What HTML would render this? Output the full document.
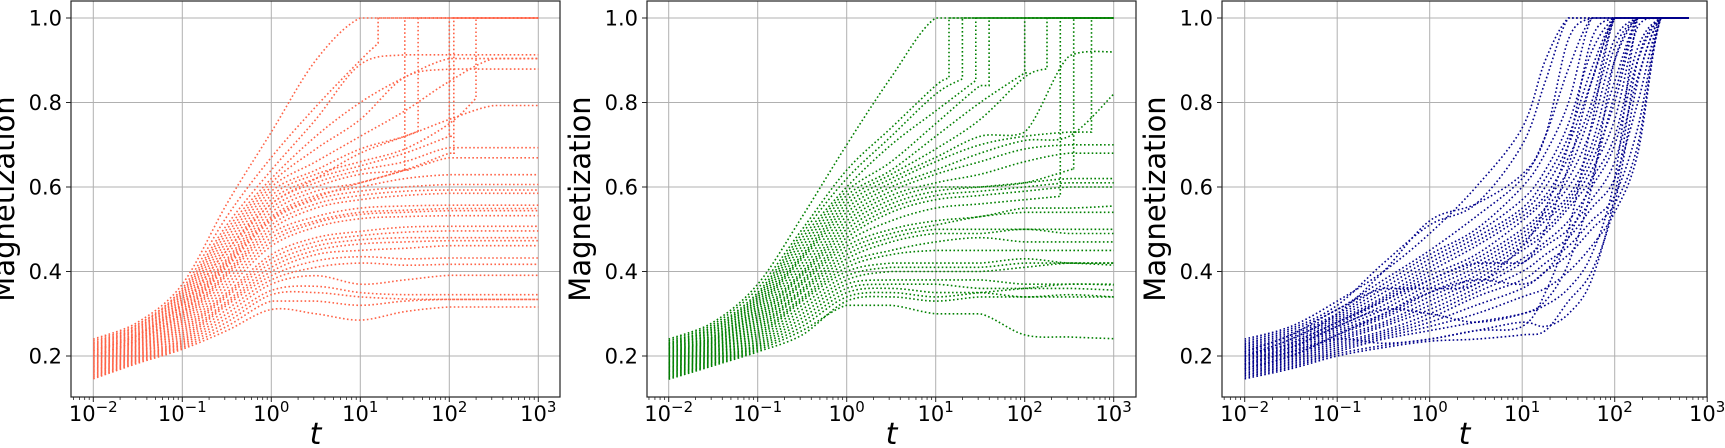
<!DOCTYPE html>
<html><head><meta charset="utf-8">
<style>
html,body{margin:0;padding:0;background:#fff;}
svg{display:block;font-family:"DejaVu Sans","Liberation Sans",sans-serif;}
</style></head>
<body>
<svg id="chart" width="1725" height="448" viewBox="0 0 1725 448" xmlns="http://www.w3.org/2000/svg"></svg>
<script>
// ---- data ----
const yTicks = [0.2, 0.4, 0.6, 0.8, 1.0];
const yTickLabels = ["0.2", "0.4", "0.6", "0.8", "1.0"];
const xTickExps = [-2, -1, 0, 1, 2, 3];
const gridE = [-2, -1.5, -1, -0.5, 0, 0.5, 1, 1.5, 2, 2.5, 3];
const gridE3 = [-2, -1.5, -1, -0.5, 0, 0.5, 1, 1.25, 1.5, 1.75, 2, 2.25, 2.5, 2.8];

const redSeries = [
[0.240,0.280,0.370,0.560,0.730,0.900,1.000,1.000,1.000,1.000,1.000],
[0.236,0.275,0.360,0.530,0.670,0.790,0.900,1.000,1.000,1.000,1.000],
[0.232,0.272,0.355,0.510,0.640,0.760,0.890,0.913,0.913,0.913,0.913],
[0.229,0.268,0.350,0.500,0.620,0.720,0.800,0.860,0.904,0.904,0.904],
[0.226,0.265,0.345,0.490,0.610,0.690,0.760,0.860,0.879,0.879,0.879],
[0.223,0.262,0.340,0.480,0.600,0.660,0.720,0.780,0.850,0.904,0.904],
[0.220,0.258,0.335,0.470,0.590,0.640,0.690,0.720,0.760,0.793,0.793],
[0.217,0.255,0.330,0.460,0.580,0.630,0.660,0.690,0.750,0.850,0.850],
[0.214,0.252,0.325,0.450,0.570,0.620,0.650,0.680,0.720,0.720,0.720],
[0.211,0.249,0.320,0.440,0.560,0.610,0.640,0.660,0.693,0.693,0.693],
[0.208,0.246,0.315,0.430,0.550,0.600,0.630,0.640,0.669,0.669,0.669],
[0.205,0.243,0.310,0.425,0.540,0.590,0.610,0.640,0.652,0.652,0.652],
[0.202,0.240,0.305,0.420,0.530,0.580,0.600,0.620,0.629,0.629,0.629],
[0.199,0.237,0.300,0.410,0.520,0.570,0.590,0.600,0.606,0.606,0.606],
[0.196,0.234,0.295,0.400,0.510,0.560,0.580,0.590,0.593,0.593,0.593],
[0.193,0.231,0.290,0.395,0.500,0.550,0.570,0.580,0.585,0.585,0.585],
[0.190,0.228,0.285,0.390,0.490,0.530,0.550,0.555,0.557,0.557,0.557],
[0.187,0.225,0.280,0.380,0.480,0.520,0.540,0.545,0.549,0.549,0.549],
[0.184,0.222,0.275,0.370,0.470,0.515,0.535,0.540,0.544,0.544,0.544],
[0.181,0.219,0.270,0.360,0.460,0.505,0.525,0.530,0.532,0.532,0.532],
[0.178,0.216,0.265,0.350,0.440,0.480,0.495,0.505,0.507,0.507,0.507],
[0.175,0.213,0.260,0.345,0.430,0.470,0.485,0.493,0.496,0.496,0.496],
[0.172,0.210,0.255,0.340,0.420,0.460,0.475,0.480,0.480,0.480,0.480],
[0.169,0.207,0.250,0.330,0.410,0.450,0.465,0.470,0.473,0.473,0.473],
[0.166,0.204,0.245,0.325,0.400,0.440,0.450,0.455,0.461,0.461,0.461],
[0.163,0.201,0.240,0.320,0.390,0.425,0.435,0.430,0.432,0.432,0.432],
[0.160,0.198,0.236,0.310,0.380,0.410,0.420,0.415,0.417,0.417,0.417],
[0.157,0.195,0.232,0.300,0.370,0.390,0.370,0.380,0.391,0.391,0.391],
[0.154,0.192,0.228,0.290,0.355,0.365,0.350,0.345,0.345,0.345,0.345],
[0.151,0.189,0.224,0.280,0.345,0.350,0.340,0.335,0.334,0.334,0.334],
[0.148,0.186,0.220,0.270,0.330,0.330,0.320,0.330,0.334,0.334,0.334],
[0.146,0.183,0.216,0.260,0.310,0.300,0.285,0.305,0.316,0.316,0.316],
[0.213,0.250,0.322,0.450,0.560,0.620,0.680,0.720,0.760,0.760,0.760],
[0.200,0.238,0.302,0.415,0.525,0.575,0.610,0.640,0.680,0.680,0.680]
];
const redJumps = [null,1.2,null,null,null,null,null,2.3,2.0,null,null,1.5,null,null,null,null,null,null,null,null,null,null,null,null,null,null,null,null,null,null,null,null,1.65,2.05];

const greenSeries = [
[0.240,0.280,0.370,0.530,0.700,0.860,1.000,1.000,1.000,1.000,1.000],
[0.236,0.275,0.360,0.500,0.640,0.740,0.840,0.900,0.900,0.900,0.900],
[0.232,0.270,0.350,0.490,0.620,0.720,0.820,0.880,0.880,0.880,0.880],
[0.229,0.266,0.345,0.480,0.600,0.700,0.780,0.860,0.860,0.860,0.860],
[0.226,0.262,0.340,0.470,0.590,0.660,0.750,0.840,0.840,0.840,0.840],
[0.223,0.258,0.335,0.460,0.580,0.640,0.720,0.800,0.870,0.870,0.870],
[0.220,0.254,0.330,0.450,0.570,0.630,0.690,0.760,0.860,0.900,0.900],
[0.217,0.250,0.325,0.440,0.560,0.620,0.670,0.720,0.730,0.910,0.920],
[0.214,0.246,0.320,0.435,0.550,0.610,0.660,0.700,0.720,0.730,0.730],
[0.211,0.243,0.315,0.430,0.540,0.600,0.640,0.680,0.710,0.720,0.820],
[0.208,0.240,0.310,0.420,0.530,0.590,0.630,0.660,0.690,0.700,0.700],
[0.205,0.237,0.305,0.410,0.520,0.580,0.610,0.630,0.660,0.680,0.680],
[0.202,0.234,0.300,0.400,0.510,0.570,0.600,0.600,0.610,0.640,0.670],
[0.199,0.231,0.295,0.395,0.500,0.560,0.590,0.600,0.610,0.620,0.620],
[0.196,0.228,0.290,0.390,0.490,0.550,0.580,0.590,0.600,0.610,0.610],
[0.193,0.225,0.285,0.380,0.480,0.540,0.570,0.580,0.590,0.600,0.600],
[0.190,0.222,0.280,0.375,0.470,0.520,0.550,0.560,0.570,0.580,0.580],
[0.187,0.219,0.275,0.370,0.460,0.500,0.520,0.530,0.550,0.550,0.555],
[0.184,0.216,0.270,0.360,0.450,0.490,0.510,0.530,0.540,0.540,0.540],
[0.181,0.213,0.265,0.355,0.440,0.480,0.500,0.500,0.500,0.500,0.500],
[0.178,0.210,0.260,0.350,0.430,0.470,0.490,0.490,0.500,0.490,0.490],
[0.175,0.207,0.255,0.340,0.420,0.450,0.470,0.480,0.470,0.470,0.470],
[0.172,0.204,0.250,0.335,0.410,0.440,0.450,0.450,0.450,0.450,0.450],
[0.169,0.201,0.245,0.330,0.400,0.420,0.420,0.420,0.430,0.420,0.420],
[0.166,0.198,0.240,0.320,0.390,0.410,0.410,0.410,0.420,0.420,0.415],
[0.163,0.195,0.235,0.310,0.380,0.400,0.400,0.400,0.410,0.420,0.420],
[0.160,0.192,0.230,0.300,0.370,0.380,0.380,0.380,0.370,0.370,0.370],
[0.157,0.189,0.226,0.290,0.360,0.370,0.370,0.360,0.360,0.360,0.356],
[0.154,0.186,0.222,0.280,0.350,0.360,0.350,0.350,0.340,0.345,0.340],
[0.151,0.183,0.218,0.270,0.340,0.350,0.340,0.350,0.360,0.370,0.368],
[0.148,0.180,0.214,0.260,0.320,0.320,0.300,0.300,0.250,0.245,0.241],
[0.145,0.177,0.210,0.250,0.330,0.340,0.330,0.340,0.340,0.340,0.340]
];
const greenJumps = [null,1.15,1.3,1.45,1.6,2.0,2.25,null,2.75,null,null,null,2.55,null,null,null,2.4,null,null,null,null,null,null,null,null,null,null,null,null,null,null,null];

const blueSeries = [
[0.240,0.270,0.330,0.400,0.490,0.600,0.740,0.900,1,1,1,1,1,1],
[0.235,0.265,0.320,0.420,0.510,0.560,0.700,0.850,1,1,1,1,1,1],
[0.230,0.260,0.310,0.380,0.450,0.530,0.620,0.720,0.880,1,1,1,1,1],
[0.226,0.255,0.300,0.370,0.440,0.500,0.600,0.680,0.800,1,1,1,1,1],
[0.222,0.250,0.295,0.360,0.430,0.490,0.570,0.640,0.750,0.920,1,1,1,1],
[0.218,0.245,0.290,0.350,0.420,0.480,0.550,0.620,0.720,0.880,1,1,1,1],
[0.214,0.240,0.285,0.340,0.410,0.470,0.540,0.600,0.700,0.850,1,1,1,1],
[0.210,0.235,0.280,0.335,0.400,0.460,0.530,0.580,0.670,0.800,1,1,1,1],
[0.206,0.230,0.275,0.330,0.390,0.440,0.520,0.570,0.640,0.780,0.950,1,1,1],
[0.202,0.226,0.270,0.320,0.380,0.430,0.500,0.550,0.620,0.740,0.930,1,1,1],
[0.198,0.222,0.265,0.310,0.370,0.420,0.490,0.540,0.600,0.700,0.900,1,1,1],
[0.194,0.218,0.260,0.300,0.360,0.410,0.480,0.530,0.580,0.680,0.850,1,1,1],
[0.190,0.214,0.255,0.295,0.350,0.400,0.470,0.520,0.570,0.660,0.800,1,1,1],
[0.186,0.210,0.250,0.290,0.340,0.390,0.460,0.500,0.560,0.640,0.760,0.980,1,1],
[0.182,0.206,0.245,0.280,0.330,0.380,0.450,0.490,0.550,0.620,0.720,0.930,1,1],
[0.178,0.202,0.240,0.275,0.320,0.370,0.430,0.470,0.520,0.600,0.700,0.900,1,1],
[0.174,0.198,0.235,0.270,0.310,0.360,0.420,0.460,0.500,0.570,0.660,0.860,1,1],
[0.170,0.194,0.230,0.260,0.300,0.350,0.400,0.440,0.480,0.550,0.620,0.800,1,1],
[0.166,0.190,0.225,0.255,0.290,0.340,0.380,0.420,0.460,0.520,0.580,0.740,1,1],
[0.162,0.186,0.220,0.250,0.280,0.320,0.360,0.400,0.440,0.500,0.560,0.700,1,1],
[0.158,0.182,0.215,0.245,0.270,0.300,0.340,0.360,0.400,0.460,0.540,0.680,1,1],
[0.154,0.178,0.210,0.240,0.260,0.280,0.300,0.320,0.360,0.440,0.620,1,1,1],
[0.150,0.174,0.205,0.225,0.240,0.260,0.280,0.270,0.300,0.380,0.580,0.900,1,1],
[0.146,0.170,0.200,0.220,0.235,0.240,0.250,0.260,0.330,0.400,0.560,0.850,1,1],
[0.200,0.240,0.300,0.400,0.520,0.560,0.630,0.720,0.950,1,1,1,1,1],
[0.210,0.250,0.310,0.360,0.360,0.370,0.460,0.550,0.700,0.950,1,1,1,1],
[0.180,0.210,0.240,0.230,0.240,0.260,0.270,0.350,0.500,0.750,1,1,1,1],
[0.200,0.230,0.280,0.330,0.380,0.420,0.420,0.500,0.650,0.850,1,1,1,1],
[0.190,0.220,0.270,0.310,0.300,0.280,0.300,0.330,0.420,0.600,0.900,1,1,1],
[0.170,0.200,0.250,0.300,0.350,0.380,0.370,0.400,0.480,0.620,0.820,1,1,1]
];

// ---- layout ----
const Y0 = 356, YPER = 422.5;
const plotTop = 1, plotBot = 397;
const panels = [
  {left:71, right:560, x0:93.3, dec:89, color:"#ff6347", series:redSeries, jumps:redJumps, grid:gridE, name:"red"},
  {left:647, right:1136, x0:668.7, dec:89, color:"#008000", series:greenSeries, jumps:greenJumps, grid:gridE, name:"green"},
  {left:1222, right:1707, x0:1244.7, dec:92.5, color:"#00008b", series:blueSeries, jumps:null, grid:gridE3, name:"blue"}
];
const NS = "http://www.w3.org/2000/svg";
const svg = document.getElementById("chart");
function mk(tag, attrs, parent){
  const el = document.createElementNS(NS, tag);
  for (const k in attrs) el.setAttribute(k, attrs[k]);
  (parent||svg).appendChild(el);
  return el;
}
function yScale(v){ return Y0 - (v - 0.2) * YPER; }
function smoothPath(pts){
  let d = "M" + pts[0][0].toFixed(1) + "," + pts[0][1].toFixed(1);
  for (let i = 0; i < pts.length - 1; i++) {
    const p0 = pts[i-1] || pts[i], p1 = pts[i], p2 = pts[i+1], p3 = pts[i+2] || p2;
    let c1y = p1[1] + (p2[1] - p0[1]) / 6, c2y = p2[1] - (p3[1] - p1[1]) / 6;
    const lo = Math.min(p1[1], p2[1]), hi = Math.max(p1[1], p2[1]);
    if (p1[1] === p2[1]) { c1y = p1[1]; c2y = p2[1]; }
    c1y = Math.max(lo - 3, Math.min(hi + 3, c1y));
    c2y = Math.max(lo - 3, Math.min(hi + 3, c2y));
    const c1x = p1[0] + (p2[0] - p0[0]) / 6, c2x = p2[0] - (p3[0] - p1[0]) / 6;
    d += " C" + c1x.toFixed(1) + "," + c1y.toFixed(1) + " " + c2x.toFixed(1) + "," + c2y.toFixed(1) + " " + p2[0].toFixed(1) + "," + p2[1].toFixed(1);
  }
  return d;
}

panels.forEach((p, pi) => {
  const xScale = e => p.x0 + (e + 2) * p.dec;
  const g = mk("g", {});
  
  
  const clipId = "clip" + pi;
  const cp = mk("clipPath", {id: clipId}, g);
  mk("rect", {x:p.left, y:plotTop, width:p.right-p.left, height:plotBot-plotTop}, cp);

  xTickExps.forEach(e => {
    const x = xScale(e);
    if (x > p.right + 0.5) return;
    const l = mk("line", {x1:x, x2:x, y1:plotTop, y2:plotBot, stroke:"#b0b0b0", "stroke-width":1}, g);
    
    
  });
  yTicks.forEach(v => {
    const y = yScale(v);
    const l = mk("line", {x1:p.left, x2:p.right, y1:y, y2:y, stroke:"#b0b0b0", "stroke-width":1}, g);
    
    
  });

  const sg = mk("g", {"clip-path":"url(#"+clipId+")"}, g);
  p.series.forEach((vals, si) => {
    const jump = p.jumps ? p.jumps[si] : null;
    const pts = [];
    let tail = "";
    for (let i = 0; i < p.grid.length; i++) {
      const e = p.grid[i];
      const v = i < vals.length ? vals[i] : vals[vals.length-1];
      if (jump !== null && e > jump) {
        const ep = p.grid[i-1], vp = vals[i-1];
        const vj = vp + (v - vp) * (jump - ep) / (e - ep);
        pts.push([xScale(jump), yScale(vj)]);
        tail = " L" + xScale(jump).toFixed(1) + "," + yScale(1.0).toFixed(1) +
               " L" + xScale(p.grid[p.grid.length-1]).toFixed(1) + "," + yScale(1.0).toFixed(1);
        break;
      }
      pts.push([xScale(e), yScale(Math.min(v, 1.0))]);
    }
    const path = mk("path", {d: smoothPath(pts) + tail,
      fill:"none", stroke:p.color, "stroke-width":1.6, "stroke-dasharray":"1.6 2.4"}, sg);
    
    
  });

  const frame = mk("rect", {x:p.left, y:plotTop, width:p.right-p.left, height:plotBot-plotTop, fill:"none", stroke:"#222", "stroke-width":1.2}, g);
  
  

  yTicks.forEach((v, i) => {
    const y = yScale(v);
    mk("line", {x1:p.left-5, x2:p.left, y1:y, y2:y, stroke:"#222", "stroke-width":1}, g);
    const t = mk("text", {x:p.left-9, y:y+7.5, "text-anchor":"end", "font-size":21, fill:"#000"}, g);
    t.textContent = yTickLabels[i];
    
    
  });
  xTickExps.forEach(e => {
    const x = xScale(e);
    mk("line", {x1:x, x2:x, y1:plotBot, y2:plotBot+5, stroke:"#222", "stroke-width":1}, g);
    const t = mk("text", {x:x, y:421, "text-anchor":"middle", "font-size":21, fill:"#000"}, g);
    const base = document.createElementNS(NS, "tspan"); base.textContent = "10"; t.appendChild(base);
    const sup = document.createElementNS(NS, "tspan");
    sup.setAttribute("dy", -9); sup.setAttribute("font-size", 15);
    sup.textContent = e < 0 ? "\u2212" + (-e) : String(e);
    t.appendChild(sup);
    
    
  });
  for (let d = -3; d <= 3; d++) {
    for (let m = 2; m <= 9; m++) {
      const x = xScale(d + Math.log10(m));
      if (x < p.left || x > p.right) continue;
      mk("line", {x1:x, x2:x, y1:plotBot, y2:plotBot+3, stroke:"#222", "stroke-width":0.8}, g);
    }
  }
  const ylx = p.left - 57;
  const yl = mk("text", {x:ylx, y:199, transform:"rotate(-90 "+ylx+" 199)", "text-anchor":"middle", "font-size":29, fill:"#000"}, g);
  yl.textContent = "Magnetization";
  
  
  const xl = mk("text", {x:(p.left+p.right)/2, y:444, "text-anchor":"middle", "font-size":30, "font-style":"italic", fill:"#000"}, g);
  xl.textContent = "t";
  
  
});
</script>
</body></html>
